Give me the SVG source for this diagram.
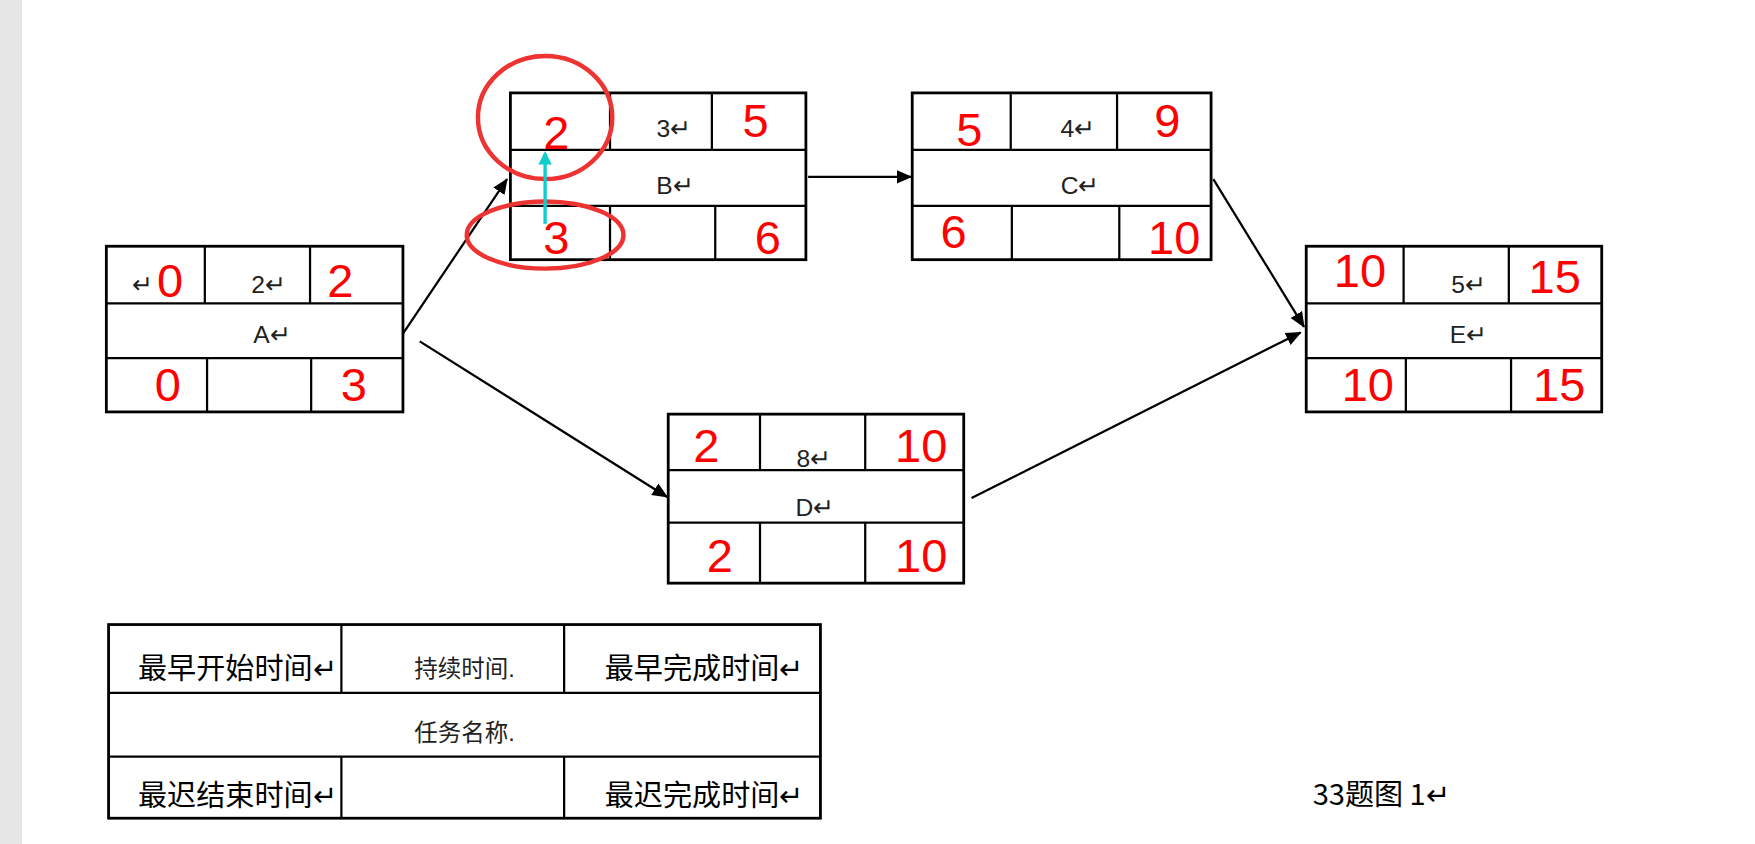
<svg xmlns="http://www.w3.org/2000/svg" width="1755" height="844" viewBox="0 0 1755 844">
<defs>
<style>
.b{fill:#fff;stroke:#000;stroke-width:2.5}
.l{stroke:#000;stroke-width:2}
.r{fill:#f00;font-family:"Liberation Sans Narrow","Liberation Sans",sans-serif;font-size:42px;text-anchor:middle}
.k{fill:#222;font-family:"Liberation Sans","Noto Sans CJK SC",sans-serif;font-size:22px;text-anchor:middle}
.z{fill:#000;font-family:"Noto Sans CJK SC",sans-serif;font-size:26px;text-anchor:middle}
.c{stroke:#000;stroke-width:2;fill:none;marker-end:url(#ah)}
</style>
<marker id="ah" markerWidth="14" markerHeight="14" refX="13" refY="7" orient="auto" markerUnits="userSpaceOnUse" viewBox="0 0 14 14"><path d="M0,1L14,7L0,13z" fill="#000"/></marker>
<marker id="ac" markerWidth="12" markerHeight="12" refX="10" refY="6" orient="auto" markerUnits="userSpaceOnUse" viewBox="0 0 12 12"><path d="M0,0L12,6L0,12z" fill="#1cc"/></marker>
</defs>
<rect width="1755" height="844" fill="#fff"/>
<rect x="0" y="0" width="22" height="844" fill="#e6e6e6"/>
<g transform="scale(1.1193)">
<g id="connectors">
<line class="c" x1="360" y1="298" x2="453" y2="160"/>
<line class="c" x1="375" y1="305" x2="596" y2="444"/>
<line class="c" x1="722" y1="158" x2="814" y2="158"/>
<line class="c" x1="1084" y1="160" x2="1165" y2="292"/>
<line class="c" x1="868" y1="445" x2="1162" y2="297"/>
</g>
<g id="A">
<rect class="b" x="95" y="220" width="265" height="148"/>
<line class="l" x1="95" y1="271" x2="360" y2="271"/><line class="l" x1="95" y1="320" x2="360" y2="320"/>
<line class="l" x1="183" y1="220" x2="183" y2="271"/><line class="l" x1="277" y1="220" x2="277" y2="271"/>
<line class="l" x1="185" y1="320" x2="185" y2="368"/><line class="l" x1="278" y1="320" x2="278" y2="368"/>
<text class="k" x="127" y="262">↵</text><text class="r" x="152" y="265">0</text><text class="k" x="240" y="262">2↵</text><text class="r" x="304" y="265">2</text>
<text class="k" x="243" y="306">A↵</text>
<text class="r" x="150" y="358">0</text><text class="r" x="316" y="358">3</text>
</g>
<g id="B">
<rect class="b" x="456" y="83" width="264" height="149"/>
<line class="l" x1="456" y1="134" x2="720" y2="134"/><line class="l" x1="456" y1="184" x2="720" y2="184"/>
<line class="l" x1="545" y1="83" x2="545" y2="134"/><line class="l" x1="636" y1="83" x2="636" y2="134"/>
<line class="l" x1="545" y1="184" x2="545" y2="232"/><line class="l" x1="639" y1="184" x2="639" y2="232"/>
<text class="r" x="497" y="133">2</text><text class="k" x="602" y="122">3↵</text><text class="r" x="675" y="122">5</text>
<text class="k" x="603" y="173">B↵</text>
<text class="r" x="497" y="227">3</text><text class="r" x="686" y="227">6</text>
</g>
<g id="C">
<rect class="b" x="815" y="83" width="267" height="149"/>
<line class="l" x1="815" y1="134" x2="1082" y2="134"/><line class="l" x1="815" y1="184" x2="1082" y2="184"/>
<line class="l" x1="903" y1="83" x2="903" y2="134"/><line class="l" x1="998" y1="83" x2="998" y2="134"/>
<line class="l" x1="904" y1="184" x2="904" y2="232"/><line class="l" x1="1000" y1="184" x2="1000" y2="232"/>
<text class="r" x="866" y="130">5</text><text class="k" x="963" y="122">4↵</text><text class="r" x="1043" y="122">9</text>
<text class="k" x="965" y="173">C↵</text>
<text class="r" x="852" y="222">6</text><text class="r" x="1049" y="227">10</text>
</g>
<g id="E">
<rect class="b" x="1167" y="220" width="264" height="148"/>
<line class="l" x1="1167" y1="271" x2="1431" y2="271"/><line class="l" x1="1167" y1="320" x2="1431" y2="320"/>
<line class="l" x1="1254" y1="220" x2="1254" y2="271"/><line class="l" x1="1348" y1="220" x2="1348" y2="271"/>
<line class="l" x1="1256" y1="320" x2="1256" y2="368"/><line class="l" x1="1350" y1="320" x2="1350" y2="368"/>
<text class="r" x="1215" y="256">10</text><text class="k" x="1312" y="262">5↵</text><text class="r" x="1389" y="262">15</text>
<text class="k" x="1312" y="306">E↵</text>
<text class="r" x="1222" y="358">10</text><text class="r" x="1393" y="358">15</text>
</g>
<g id="D">
<rect class="b" x="597" y="370" width="264" height="151"/>
<line class="l" x1="597" y1="420" x2="861" y2="420"/><line class="l" x1="597" y1="467" x2="861" y2="467"/>
<line class="l" x1="679" y1="370" x2="679" y2="420"/><line class="l" x1="773" y1="370" x2="773" y2="420"/>
<line class="l" x1="679" y1="467" x2="679" y2="521"/><line class="l" x1="773" y1="467" x2="773" y2="521"/>
<text class="r" x="631" y="413">2</text><text class="k" x="727" y="417">8↵</text><text class="r" x="823" y="413">10</text>
<text class="k" x="728" y="461">D↵</text>
<text class="r" x="643" y="511">2</text><text class="r" x="823" y="511">10</text>
</g>
<g id="legend">
<rect class="b" x="97" y="558" width="636" height="173"/>
<line class="l" x1="97" y1="619" x2="733" y2="619"/><line class="l" x1="97" y1="676" x2="733" y2="676"/>
<line class="l" x1="305" y1="558" x2="305" y2="619"/><line class="l" x1="504" y1="558" x2="504" y2="619"/>
<line class="l" x1="305" y1="676" x2="305" y2="731"/><line class="l" x1="504" y1="676" x2="504" y2="731"/>
<text class="z" x="212" y="607">最早开始时间↵</text>
<text class="k" x="415" y="605" style="font-size:21px">持续时间.</text>
<text class="z" x="629" y="607">最早完成时间↵</text>
<text class="k" x="415" y="662" style="font-size:21px">任务名称.</text>
<text class="z" x="212" y="720">最迟结束时间↵</text>
<text class="z" x="629" y="720">最迟完成时间↵</text>
</g>
<text class="z" x="1234" y="719">33题图 1↵</text>
<g id="marks">
<ellipse cx="487" cy="105" rx="60" ry="55" fill="none" stroke="#e33" stroke-width="4"/>
<ellipse cx="487" cy="210" rx="70" ry="30" fill="none" stroke="#e33" stroke-width="4"/>
<line x1="487" y1="200" x2="487" y2="137" stroke="#1cc" stroke-width="3" marker-end="url(#ac)"/>
</g>
</g>
</svg>
